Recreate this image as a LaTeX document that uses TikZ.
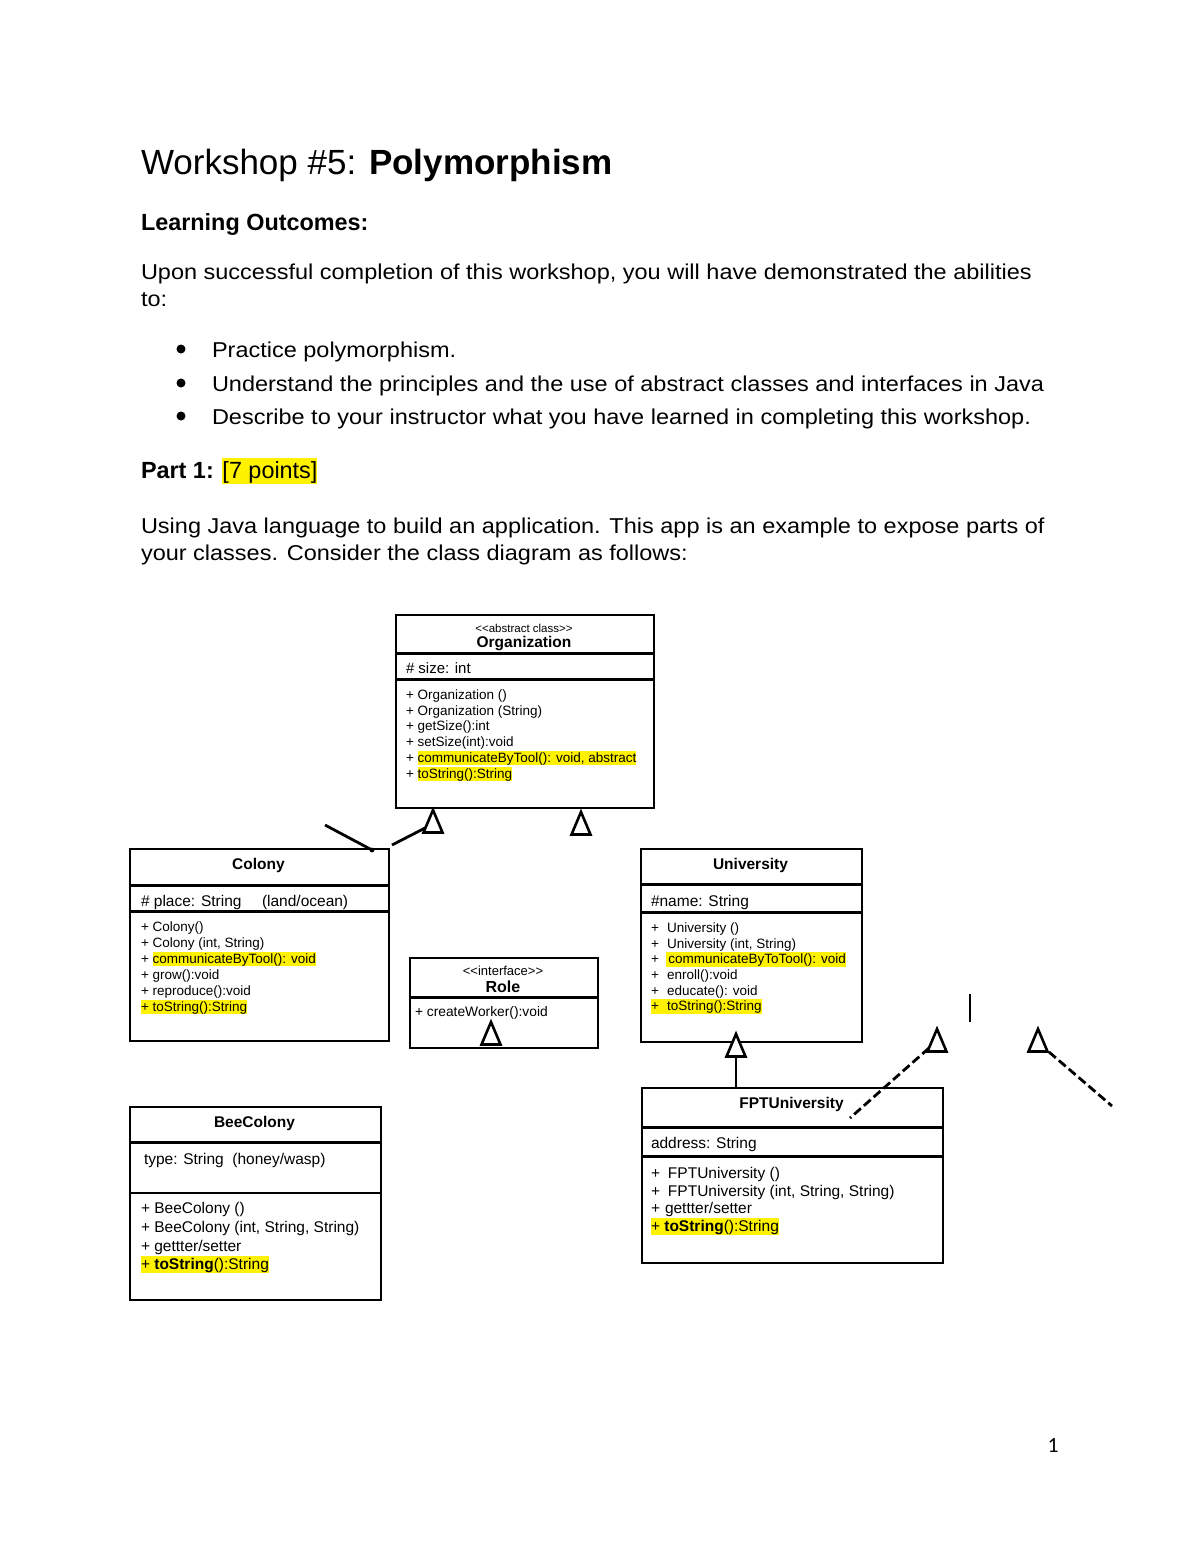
\documentclass[tikz,border=0pt]{standalone}
\usepackage{fontspec}
\setmainfont{Liberation Sans}
\newfontfamily\pgnumfont{Carlito}
\usepackage{xcolor}
\usepackage{graphicx}
\newcommand\myfs[1]{\fontsize{#1}{#1}\selectfont}
\newcommand\hly[1]{{\setlength{\fboxsep}{0pt}\colorbox{yellow}{\rule[-0.25em]{0pt}{1.1em}#1}}}
\newcommand\wide[1]{\scalebox{1.093}[1]{#1}}
\tikzset{
  cls/.style={draw, line width=2pt, inner sep=0pt, anchor=north west},
  sepline/.style={line width=3pt},
  txt/.style={anchor=base west, inner sep=0pt, outer sep=0pt},
  ctxt/.style={anchor=base, inner sep=0pt, outer sep=0pt},
  gentri/.pic={\draw[line width=2.6pt, line join=miter, fill=white] (0,0) -- (9.5,22.5) -- (-9.5,22.5) -- cycle;},
  solidc/.style={line width=2.8pt},
  dashc/.style={line width=2.8pt, dash pattern=on 9pt off 4pt},
  bul/.style={circle, fill=black, inner sep=0pt, minimum size=9pt},
  body/.style={txt, font=\myfs{21.5}},
  mth/.style={txt, font=\myfs{13.5}},
  big/.style={txt, font=\myfs{15.5}},
  ttl/.style={ctxt, font=\myfs{15.5}\bfseries},
}
\begin{document}
\begin{tikzpicture}[x=1pt,y=-1pt]
\useasboundingbox (0,0) rectangle (1200,1553);
\fill[white] (0,0) rectangle (1200,1553);

% ---------- header text ----------
\node[txt] (title) at (141,174) {\myfs{35}Workshop \#5: \textbf{Polymorphism}};
\node[txt] (lo) at (141,230) {\myfs{23.4}\textbf{Learning Outcomes:}};
\node[body] (p1) at (141,279) {\wide{Upon successful completion of this workshop, you will have demonstrated the abilities}};
\node[body] (p1b) at (141,306) {\wide{to:}};
\node[bul] (b1) at (181,349) {};
\node[bul] (b2) at (181,383) {};
\node[bul] (b3) at (181,416) {};
\node[body] (i1) at (212,357) {\wide{Practice polymorphism.}};
\node[body] (i2) at (212,391) {\wide{Understand the principles and the use of abstract classes and interfaces in Java}};
\node[body] (i3) at (212,424) {\wide{Describe to your instructor what you have learned in completing this workshop.}};
\node[txt] (part) at (141,478) {\myfs{23.4}\textbf{Part 1:} \hly{[7 points]}};
\node[body] (p2) at (141,533) {\wide{Using Java language to build an application. This app is an example to expose parts of}};
\node[body] (p2b) at (141,560) {\wide{your classes. Consider the class diagram as follows:}};

% ---------- Organization ----------
\node[cls, minimum width=258pt, minimum height=193pt] (org) at (395,614) {};
\draw[sepline] (org.west |- 0,653) -- (org.east |- 0,653);
\draw[sepline] (org.west |- 0,679) -- (org.east |- 0,679);
\node[ctxt] (orgst) at (524,632) {\myfs{11.5}<{}<abstract class>{}>};
\node[ttl] (orgt) at (524,647.6) {Organization};
\node[txt] (orga) at (406,673.5) {\myfs{15}\# size: int};
\node[mth] (orgm1) at (406,699) {+ Organization ()};
\node[mth] (orgm2) at (406,715) {+ Organization (String)};
\node[mth] (orgm3) at (406,730.5) {+ getSize():int};
\node[mth] (orgm4) at (406,746) {+ setSize(int):void};
\node[mth] (orgm5) at (406,762) {+ \hly{communicateByTool(): void, abstract}};
\node[mth] (orgm6) at (406,778) {+ \hly{toString():String}};

% ---------- Colony ----------
\node[cls, minimum width=259pt, minimum height=192pt] (col) at (129,848) {};
\draw[sepline] (col.west |- 0,885) -- (col.east |- 0,885);
\draw[sepline] (col.west |- 0,911) -- (col.east |- 0,911);
\node[ttl] (colt) at (258.5,869.6) {Colony};
\node[big] (cola) at (141,906.4) {\# place: String};
\node[big] (colb) at (262,906.4) {(land/ocean)};
\node[mth] (colm1) at (141,931.8) {+ Colony()};
\node[mth] (colm2) at (141,947) {+ Colony (int, String)};
\node[mth] (colm3) at (141,963) {+ \hly{communicateByTool(): void}};
\node[mth] (colm4) at (141,979) {+ grow():void};
\node[mth] (colm5) at (141,995) {+ reproduce():void};
\node[mth] (colm6) at (141,1011) {\hly{+ toString():String}};

% ---------- University ----------
\node[cls, minimum width=221pt, minimum height=193pt] (uni) at (640,848) {};
\draw[sepline] (uni.west |- 0,884) -- (uni.east |- 0,884);
\draw[sepline] (uni.west |- 0,912) -- (uni.east |- 0,912);
\node[ttl] (unit) at (750.5,869.6) {University};
\node[big] (unia) at (651,906.4) {\#name: String};
\node[mth] (unim1) at (651,932.8) {\makebox[16pt][l]{+}University ()};
\node[mth] (unim2) at (651,948.8) {\makebox[16pt][l]{+}University (int, String)};
\node[mth] (unim3) at (651,963.8) {\makebox[15pt][l]{+}\hly{\,communicateByToTool(): void}};
\node[mth] (unim4) at (651,979.8) {\makebox[16pt][l]{+}enroll():void};
\node[mth] (unim5) at (651,995.8) {\makebox[16pt][l]{+}educate(): void};
\node[mth] (unim6) at (651,1010.8) {\hly{\makebox[16pt][l]{+}toString():String}};

% ---------- Role ----------
\node[cls, minimum width=188pt, minimum height=90pt] (role) at (409,957) {};
\draw[sepline] (role.west |- 0,997) -- (role.east |- 0,997);
\node[ctxt] (rolest) at (503,975.5) {\myfs{13}<{}<interface>{}>};
\node[ctxt] (rolet) at (503,992.7) {\myfs{16}\bfseries Role};
\node[txt] (rolem) at (415,1016) {\myfs{13.8}+ createWorker():void};

% ---------- BeeColony ----------
\node[cls, minimum width=251pt, minimum height=193pt] (bee) at (129,1106) {};
\draw[sepline] (bee.west |- 0,1142) -- (bee.east |- 0,1142);
\draw[line width=2pt] (bee.west |- 0,1193) -- (bee.east |- 0,1193);
\node[ttl] (beet) at (254.5,1127.6) {BeeColony};
\node[big] (beea) at (144,1164.5) {type: String\ \ (honey/wasp)};
\node[big] (beem1) at (141,1213.5) {+ BeeColony ()};
\node[big] (beem2) at (141,1232.5) {+ BeeColony (int, String, String)};
\node[big] (beem3) at (141,1251) {+ gettter/setter};
\node[big] (beem4) at (141,1269.5) {\hly{+ \textbf{toString}():String}};

% ---------- FPTUniversity ----------
\node[cls, minimum width=301pt, minimum height=175pt] (fpt) at (641,1087) {};
\draw[sepline] (fpt.west |- 0,1127) -- (fpt.east |- 0,1127);
\draw[sepline] (fpt.west |- 0,1156) -- (fpt.east |- 0,1156);
\node[ttl] (fptt) at (791.5,1108.6) {FPTUniversity};
\node[big] (fpta) at (651,1148.5) {address: String};
\node[big] (fptm1) at (651,1178.5) {\makebox[17pt][l]{+}FPTUniversity ()};
\node[big] (fptm2) at (651,1196.5) {\makebox[17pt][l]{+}FPTUniversity (int, String, String)};
\node[big] (fptm3) at (651,1213.5) {\makebox[14pt][l]{+}gettter/setter};
\node[big] (fptm4) at (651,1231.5) {\hly{+ \textbf{toString}():String}};

% ---------- generalization marks and connectors ----------
\coordinate (ca1) at (325,825);
\coordinate (ca2) at (372,850);
\coordinate (cb1) at (392,845);
\coordinate (cb2) at (427,827);
\draw[solidc] (ca1) -- (ca2);
\fill (ca2) circle (2.4pt);
\draw[solidc] (cb1) -- (cb2);
\pic at (433,810) {gentri};
\pic at (581,812) {gentri};
\pic at (491,1022) {gentri};

\coordinate (cu1) at (736,1055);
\draw[solidc] (cu1) -- (cu1 |- fpt.north);
\pic at (736,1034) {gentri};

\coordinate (cd1) at (929,1048);
\coordinate (cd2) at (850,1118);
\draw[dashc] (cd1) -- (cd2);
\pic at (937,1029) {gentri};

\coordinate (cv1) at (970,994);
\coordinate (cv2) at (970,1022);
\draw[line width=2.8pt] (cv1) -- (cv2);

\coordinate (ce1) at (1049,1052);
\coordinate (ce2) at (1112,1106);
\draw[dashc] (ce1) -- (ce2);
\pic at (1038,1029) {gentri};

% ---------- page number ----------
\node[ctxt] (pg) at (1053,1452) {\pgnumfont\myfs{21.7}1};
\end{tikzpicture}
\end{document}
